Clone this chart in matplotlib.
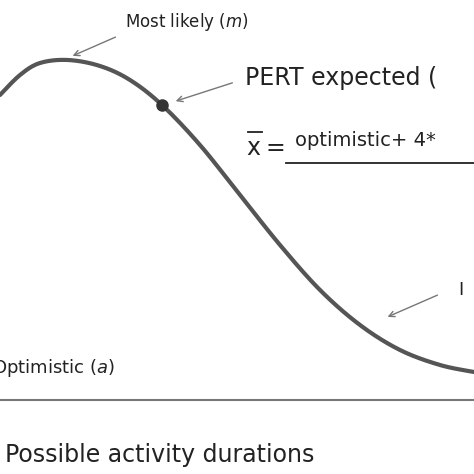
import matplotlib
matplotlib.use("Agg")
import matplotlib.pyplot as plt
import numpy as np

curve_x = [0, 20, 40, 68, 100, 130, 162, 200, 240, 280, 320, 360, 400, 440, 474]
curve_y = [95, 75, 63, 60, 66, 80, 105, 145, 195, 245, 290, 325, 350, 365, 372]
expected_x, expected_y = 162, 105

fig = plt.figure(figsize=(4.74, 4.74), dpi=100)
ax = fig.add_axes([0, 0, 1, 1])
ax.set_xlim(0, 474); ax.set_ylim(474, 0); ax.axis("off")

# Catmull-Rom smoothing of the read points
P = np.array(list(zip(curve_x, curve_y)), float)
P = np.vstack([P[0], P, P[-1]])
xs, ys = [], []
t = np.linspace(0, 1, 20)[:, None]
for i in range(1, len(P) - 2):
    p0, p1, p2, p3 = P[i-1], P[i], P[i+1], P[i+2]
    seg = 0.5 * ((2*p1) + (-p0 + p2)*t + (2*p0 - 5*p1 + 4*p2 - p3)*t**2 + (-p0 + 3*p1 - 3*p2 + p3)*t**3)
    xs.extend(seg[:, 0]); ys.extend(seg[:, 1])
c = "#555555"
ax.plot(xs, ys, color=c, lw=3, solid_capstyle="round")
ax.plot([expected_x], [expected_y], "o", color="#333333", ms=8)
ax.plot([0, 474], [400, 400], color="#777777", lw=1.5)

tc = "#222222"
ax.text(125, 22, "Most likely ($m$)", fontsize=12, color=tc, va="center")
ax.annotate("", xy=(70, 57), xytext=(118, 36), arrowprops=dict(arrowstyle="->", color="#777777", lw=1))
ax.text(245, 78, "PERT expected (", fontsize=17, color=tc, va="center")
ax.annotate("", xy=(173, 102), xytext=(235, 82), arrowprops=dict(arrowstyle="->", color="#777777", lw=1))
ax.text(246, 148, "x", fontsize=17, color=tc, va="center")
ax.plot([248, 262], [132, 132], color=tc, lw=1.3)
ax.text(266, 148, "=", fontsize=17, color=tc, va="center")
ax.text(295, 140, "optimistic+ 4*", fontsize=14, color=tc, va="center")
ax.plot([286, 474], [163, 163], color=tc, lw=1.3)
ax.text(-8, 368, "Optimistic ($a$)", fontsize=13, color=tc, va="center")
ax.text(458, 290, "I", fontsize=13, color=tc, va="center")
ax.annotate("", xy=(385, 318), xytext=(440, 294), arrowprops=dict(arrowstyle="->", color="#777777", lw=1))
ax.text(5, 455, "Possible activity durations", fontsize=17, color=tc, va="center")

fig.savefig("out.png", dpi=100)
